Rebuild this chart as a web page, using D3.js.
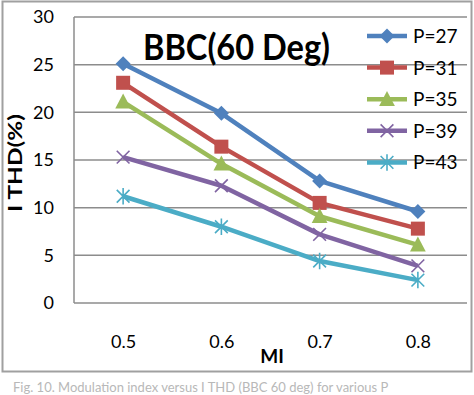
<!DOCTYPE html>
<html>
<head>
<meta charset="utf-8">
<script src="https://cdn.jsdelivr.net/npm/d3@7"></script>
<style>
body { margin: 0; background: #fff; }
svg { display: block; font-family: Lato, "Open Sans", sans-serif; }
</style>
</head>
<body>
<script>
/* Chart data */
var categories = ["0.5", "0.6", "0.7", "0.8"];
var seriesNames = ["P=27", "P=31", "P=35", "P=39", "P=43"];
var p27 = [25.1, 19.9, 12.8, 9.6];
var p31 = [23.1, 16.4, 10.5, 7.8];
var p35 = [21.1, 14.6, 9.1, 6.1];
var p39 = [15.3, 12.3, 7.2, 3.9];
var p43 = [11.2, 8.0, 4.4, 2.4];
var yTicks = [0, 5, 10, 15, 20, 25, 30];

var colors = ["#4F81BD", "#C0504D", "#9BBB59", "#8064A2", "#4BACC6"];
var shapes = ["diamond", "square", "triangle", "cross", "asterisk"];
var series = [p27, p31, p35, p39, p43].map(function(v, i){
	return {name: seriesNames[i], values: v, color: colors[i], shape: shapes[i]};
});

var width = 474, height = 395;
var svg = d3.select('body').append('svg').attr('width', width).attr('height', height);

// outer frame
svg.append('rect').attr('x', 2.5).attr('y', 1.5).attr('width', 469).attr('height', 370)
	.style('fill', '#fff').style('stroke', '#a0a0a0').style('stroke-width', 2);

var plotL = 74, plotR = 467, plotT = 17, plotB = 303;
var x = d3.scalePoint().domain(categories).range([plotL, plotR]).padding(0.5);
var y = d3.scaleLinear().domain([0, 30]).range([plotB, plotT]);

// gridlines
svg.append('g').selectAll('line.grid').data(yTicks).enter().append('line')
	.attr('x1', plotL).attr('x2', plotR)
	.attr('y1', function(d){ return y(d); }).attr('y2', function(d){ return y(d); })
	.style('stroke', '#8c8c8c').style('stroke-width', 1.5);
svg.append('line').attr('x1', plotL).attr('x2', plotL).attr('y1', plotT).attr('y2', plotB)
	.style('stroke', '#8c8c8c').style('stroke-width', 1.5);

// y axis labels
var yAxis = d3.axisLeft(y).tickValues(yTicks).tickSize(0).tickPadding(0);
var gy = svg.append('g').attr('transform', 'translate(' + 54 + ',0)').call(yAxis);
gy.select('.domain').remove();
gy.selectAll('text').style('font-size', '18px').style('fill', '#000').style('font-family', 'Lato, sans-serif');

// x axis labels
var xAxis = d3.axisBottom(x).tickSize(0).tickPadding(0);
var gx = svg.append('g').attr('transform', 'translate(0,' + 335 + ')').call(xAxis);
gx.select('.domain').remove();
gx.selectAll('text').style('font-size', '18px').style('fill', '#000').style('font-family', 'Lato, sans-serif');

// titles
svg.append('text').attr('x', 143).attr('y', 60).text('BBC(60 Deg)')
	.attr('textLength', 187).attr('lengthAdjust', 'spacingAndGlyphs')
	.style('font-size', '37px').style('font-weight', 'bold');
svg.append('text').attr('x', 272).attr('y', 363).attr('text-anchor', 'middle').text('MI')
	.style('font-size', '19px').style('font-weight', 'bold');
svg.append('text').attr('transform', 'translate(22,163) rotate(-90)').attr('text-anchor', 'middle')
	.attr('textLength', 98).attr('lengthAdjust', 'spacingAndGlyphs')
	.text('I THD(%)').style('font-size', '19px').style('font-weight', 'bold');

// caption below the frame
svg.append('text').attr('x', 13).attr('y', 392).text('Fig. 10. Modulation index versus I THD (BBC 60 deg) for various P')
	.style('font-size', '13px').style('fill', '#b8b8b8');

function marker(g, shape, color, s){
	if(shape === 'diamond'){
		g.append('path').attr('d', 'M0,' + (-s) + 'L' + s + ',0L0,' + s + 'L' + (-s) + ',0Z').style('fill', color);
	}else if(shape === 'square'){
		g.append('rect').attr('x', -s).attr('y', -s).attr('width', 2 * s).attr('height', 2 * s).style('fill', color);
	}else if(shape === 'triangle'){
		g.append('path').attr('d', 'M0,' + (-s * 1.1) + 'L' + (s * 1.05) + ',' + (s * 0.9) + 'L' + (-s * 1.05) + ',' + (s * 0.9) + 'Z').style('fill', color);
	}else{
		var k = s * 0.85;
		var d = 'M' + (-k) + ',' + (-k) + 'L' + k + ',' + k + 'M' + (-k) + ',' + k + 'L' + k + ',' + (-k);
		if(shape === 'asterisk') d += 'M0,' + (-s * 1.1) + 'L0,' + (s * 1.1);
		g.append('path').attr('d', d).style('stroke', color).style('stroke-width', 1.6).style('fill', 'none');
	}
}

var line = d3.line().x(function(d, i){ return x(categories[i]); }).y(function(d){ return y(d); });

var sg = svg.selectAll('g.series').data(series).enter().append('g').classed('series', true);
sg.append('path').attr('d', function(d){ return line(d.values); })
	.style('fill', 'none').style('stroke', function(d){ return d.color; })
	.style('stroke-width', 4.5).style('stroke-linejoin', 'round');
sg.each(function(d){
	var g = d3.select(this);
	d.values.forEach(function(v, i){
		var m = g.append('g').attr('transform', 'translate(' + x(categories[i]) + ',' + y(v) + ')');
		marker(m, d.shape, d.color, d.shape === 'square' ? 7 : 7.5);
	});
});

// legend
var lg = svg.selectAll('g.legend').data(series).enter().append('g').classed('legend', true)
	.attr('transform', function(d, i){ return 'translate(367,' + (36 + i * 31.6) + ')'; });
lg.append('line').attr('x1', 0).attr('x2', 40)
	.style('stroke', function(d){ return d.color; }).style('stroke-width', 4.5);
lg.each(function(d){ marker(d3.select(this).append('g').attr('transform', 'translate(20,0)'), d.shape, d.color, d.shape === 'square' ? 7 : 7.5); });
lg.append('text').attr('x', 46).attr('y', 7).text(function(d){ return d.name; })
	.style('font-size', '19px');
</script>
</body>
</html>
